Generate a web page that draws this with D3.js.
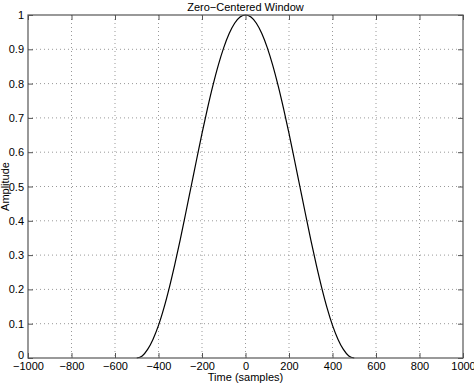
<!DOCTYPE html>
<html>
<head>
<meta charset="utf-8">
<script src="https://cdn.jsdelivr.net/npm/d3@7"></script>
<style>
  body { margin: 0; background: #fff; }
  svg { display: block; }
  text { font-family: "Liberation Sans", Arial, sans-serif; fill: #000; }
</style>
</head>
<body>
<div id="chart"></div>
<script>
// samples
var timeSamples = [-500, -475, -450, -425, -400, -375, -350, -325, -300, -275, -250,
                   -225, -200, -175, -150, -125, -100, -75, -50, -25, 0,
                   25, 50, 75, 100, 125, 150, 175, 200, 225, 250,
                   275, 300, 325, 350, 375, 400, 425, 450, 475, 500];
var amplitude = [0, 0.006, 0.025, 0.055, 0.095, 0.146, 0.206, 0.273, 0.345, 0.422, 0.5,
                 0.578, 0.655, 0.727, 0.794, 0.854, 0.905, 0.946, 0.976, 0.994, 1,
                 0.994, 0.976, 0.946, 0.905, 0.854, 0.794, 0.727, 0.655, 0.578, 0.5,
                 0.422, 0.345, 0.273, 0.206, 0.146, 0.095, 0.055, 0.025, 0.006, 0];
var xTicks = [-1000, -800, -600, -400, -200, 0, 200, 400, 600, 800, 1000];
var yTicks = [0, 0.1, 0.2, 0.3, 0.4, 0.5, 0.6, 0.7, 0.8, 0.9, 1];

var width = 474, height = 384;
var margin = {top: 15, right: 11, bottom: 26, left: 28};
var plotW = width - margin.left - margin.right;
var plotH = height - margin.top - margin.bottom;

var svg = d3.select('#chart').append('svg')
    .attr('width', width).attr('height', height);

var g = svg.append('g')
    .attr('transform', 'translate(' + margin.left + ',' + margin.top + ')');

var x = d3.scaleLinear().domain([-1000, 1000]).range([0, plotW]);
var y = d3.scaleLinear().domain([0, 1]).range([plotH, 0]);

function fmt(d) { return String(d).replace('-', '\u2212'); }

// grid
g.append('g').selectAll('line')
  .data(xTicks.slice(1, -1))
  .enter().append('line')
  .attr('x1', function (d) { return x(d); }).attr('x2', function (d) { return x(d); })
  .attr('y1', 0).attr('y2', plotH)
  .attr('stroke', '#999').attr('stroke-width', 1).attr('stroke-dasharray', '1,3');

g.append('g').selectAll('line')
  .data(yTicks.slice(1, -1))
  .enter().append('line')
  .attr('y1', function (d) { return y(d); }).attr('y2', function (d) { return y(d); })
  .attr('x1', 0).attr('x2', plotW)
  .attr('stroke', '#999').attr('stroke-width', 1).attr('stroke-dasharray', '1,3');

// curve
var line = d3.line()
  .x(function (d, i) { return x(timeSamples[i]); })
  .y(function (d) { return y(d); })
  .curve(d3.curveMonotoneX);

g.append('path')
  .datum(amplitude)
  .attr('d', line)
  .attr('fill', 'none')
  .attr('stroke', '#000')
  .attr('stroke-width', 1.2);

// axes, ticks inward on every side
var axisColor = '#555';
function styleAxis(sel) {
  sel.selectAll('.domain').remove();
  sel.selectAll('.tick line').attr('stroke', axisColor);
  sel.selectAll('.tick text').style('font-size', '11px')
    .style('font-family', '"Liberation Sans", Arial, sans-serif');
}

var xAxis = g.append('g').attr('transform', 'translate(0,' + plotH + ')')
  .call(d3.axisBottom(x).tickValues(xTicks).tickSize(-5).tickPadding(4).tickFormat(fmt));
styleAxis(xAxis);

g.append('g')
  .call(d3.axisTop(x).tickValues(xTicks).tickSize(-5).tickFormat(''))
  .call(styleAxis);

var yAxis = g.append('g')
  .call(d3.axisLeft(y).tickValues(yTicks).tickSize(-5).tickPadding(4).tickFormat(d3.format('')));
styleAxis(yAxis);
// the zero label sits a little higher so it clears the x labels
yAxis.selectAll('.tick text').filter(function (d) { return d === 0; }).attr('dy', '0');

g.append('g').attr('transform', 'translate(' + plotW + ',0)')
  .call(d3.axisRight(y).tickValues(yTicks).tickSize(-5).tickFormat(''))
  .call(styleAxis);

g.append('rect')
  .attr('width', plotW).attr('height', plotH)
  .attr('fill', 'none').attr('stroke', axisColor).attr('stroke-width', 1.2);

// labels
svg.append('text')
  .attr('x', margin.left + plotW / 2).attr('y', 11)
  .attr('text-anchor', 'middle').style('font-size', '11px')
  .text('Zero\u2212Centered Window');

svg.append('text')
  .attr('x', margin.left + plotW / 2).attr('y', 381)
  .attr('text-anchor', 'middle').style('font-size', '11px')
  .text('Time (samples)');

svg.append('text')
  .attr('transform', 'translate(8.5,' + (margin.top + plotH / 2) + ') rotate(-90)')
  .attr('text-anchor', 'middle').style('font-size', '11px')
  .text('Amplitude');
</script>
</body>
</html>
